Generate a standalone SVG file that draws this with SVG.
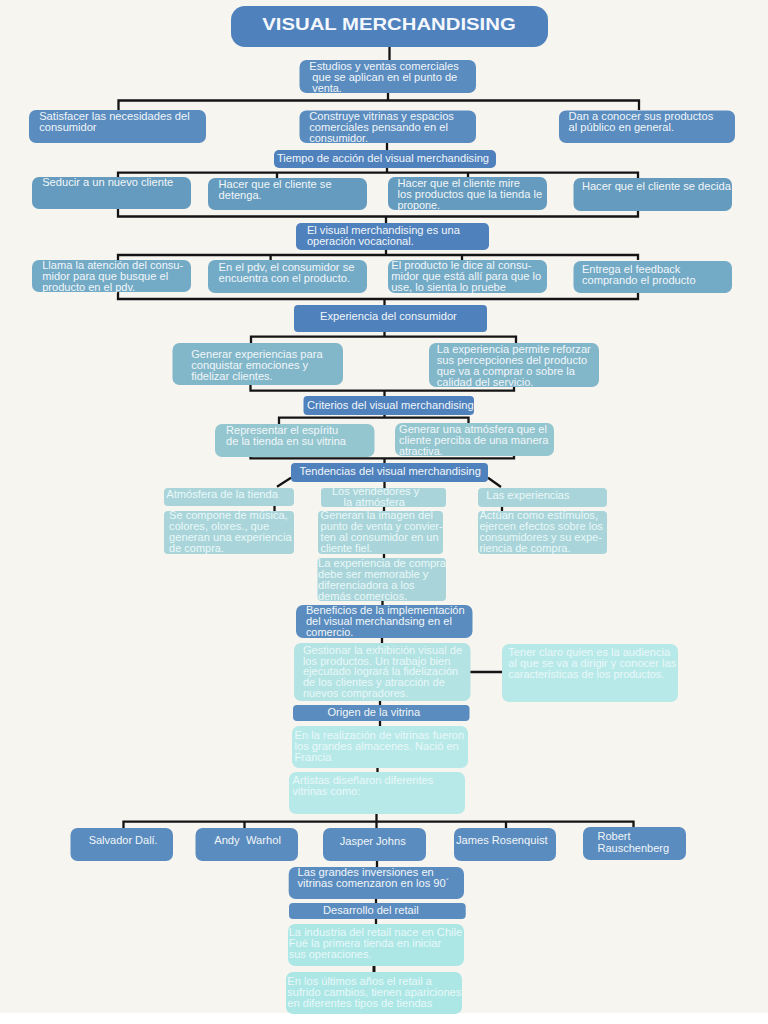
<svg xmlns="http://www.w3.org/2000/svg" width="768" height="1024" viewBox="0 0 768 1024">
<style>
text{font-family:"Liberation Sans",Arial,sans-serif;font-size:10.200px;fill:#f1f6f9;white-space:pre}
.title{font-size:16.5px;font-weight:bold;fill:#f4f7fb}
rect.n{rx:7px;ry:7px}
.c1{fill:#4f81bd}.c2{fill:#5a8cbf}.c3{fill:#659bbe}.c4{fill:#73aac6}.c5{fill:#82b7c9}.c6{fill:#94c6cf}.c7{fill:#a9d5da}.c8{fill:#b3e3e3}.c9{fill:#b8e9e9}.c10{fill:#ace7e6}
.c7~text,.c8~text,.c9~text,.c10~text{fill:#e9f8f8}
#connectors path{fill:none;stroke:#141414;stroke-width:2.300}
</style>
<rect width="768" height="1024" fill="#ffffff"/>
<rect width="768" height="1013" fill="#f7f5f0"/>
<g id="connectors">
<path d="M389.5 47V60"/>
<path d="M388 93V101M118.500 110V100.500H639V110M387 143V150"/>
<path d="M387 168V173M118 178V172.700H638V178M277 172.700V178M468 172.700V178"/>
<path d="M118 209V216.500H638V211M386 216.500V223"/>
<path d="M386 250V255M118 260V255H638V260M270.600 255V260M462 255V260"/>
<path d="M118 292V299H638V293M384.500 299V305"/>
<path d="M384.500 332V337M251 343V336.700H516V343"/>
<path d="M250.500 385V390.700H514V387M384.500 390.700V396"/>
<path d="M384.500 415V418M279 424V417.700H468.500V424"/>
<path d="M250.500 457V458.300H514V456M384.500 458.300V463"/>
<path d="M291 477.700L277 486.700M488 477.700L501 487M384.500 482V488"/>
<path d="M274.500 506V511M384 507V511M502 507V511M384 554V558M382.500 601V605M382 638V643M470 672H502M380 701V705M380 721V726M377.500 768V772"/>
<path d="M376.500 814V836M123.500 828V821.700H633.500V828M244.500 821.700V828M506 821.700V828"/>
<path d="M377 861V867M376 899V903M376 919V924"/>
<path d="M374 966V972" style="stroke-width:3"/>
</g>
<g id="n-title"><rect x="231" y="6" width="317" height="41" rx="14" ry="14" fill="#4f81bd"/><text class="title" x="262.300" y="30" textLength="253.400" lengthAdjust="spacingAndGlyphs">VISUAL MERCHANDISING</text></g>
<g id="n-estudios"><rect class="n c2" x="299.500" y="60" width="176.500" height="33"/>
<text x="309.300" y="69.500" textLength="149.500" lengthAdjust="spacingAndGlyphs">Estudios y ventas comerciales</text>
<text x="312.300" y="80.500" textLength="145" lengthAdjust="spacingAndGlyphs">que se aplican en el punto de</text>
<text x="312.300" y="91.500" textLength="29.400" lengthAdjust="spacingAndGlyphs">venta.</text></g>
<g id="n-satisfacer"><rect class="n c2" x="29" y="110" width="177" height="33"/>
<text x="39.200" y="119.500" textLength="150.500" lengthAdjust="spacingAndGlyphs">Satisfacer las necesidades del</text>
<text x="39.200" y="130.500" textLength="57.400" lengthAdjust="spacingAndGlyphs">consumidor</text></g>
<g id="n-construye"><rect class="n c2" x="299.500" y="110.500" width="176.500" height="32.500"/>
<text x="309.300" y="119.500" textLength="144.600" lengthAdjust="spacingAndGlyphs">Construye vitrinas y espacios</text>
<text x="309.300" y="130.500" textLength="138.700" lengthAdjust="spacingAndGlyphs">comerciales pensando en el</text>
<text x="309.300" y="141.500" textLength="58.800" lengthAdjust="spacingAndGlyphs">consumidor.</text></g>
<g id="n-dan"><rect class="n c2" x="559" y="110.500" width="176" height="32.500"/>
<text x="568.600" y="119.500" textLength="144.600" lengthAdjust="spacingAndGlyphs">Dan a conocer sus productos</text>
<text x="568.600" y="130.500" textLength="105.400" lengthAdjust="spacingAndGlyphs">al público en general.</text></g>
<g id="n-tiempo"><rect class="n c1" x="274" y="150" width="222" height="18" style="rx:5px;ry:5px"/>
<text x="277" y="162" textLength="212" lengthAdjust="spacingAndGlyphs">Tiempo de acción del visual merchandising</text></g>
<g id="n-seducir"><rect class="n c3" x="32" y="177" width="159" height="32"/>
<text x="42.200" y="186" textLength="131" lengthAdjust="spacingAndGlyphs">Seducir a un nuevo cliente</text></g>
<g id="n-detenga"><rect class="n c3" x="208" y="178" width="159" height="32"/>
<text x="218.600" y="188" textLength="113" lengthAdjust="spacingAndGlyphs">Hacer que el cliente se</text>
<text x="218.600" y="199" textLength="43" lengthAdjust="spacingAndGlyphs">detenga.</text></g>
<g id="n-mire"><rect class="n c3" x="388" y="177" width="159" height="33"/>
<text x="397.500" y="187" textLength="122.500" lengthAdjust="spacingAndGlyphs">Hacer que el cliente mire</text>
<text x="397.500" y="198" textLength="144.600" lengthAdjust="spacingAndGlyphs">los productos que la tienda le</text>
<text x="397.500" y="209" textLength="42.600" lengthAdjust="spacingAndGlyphs">propone.</text></g>
<g id="n-decida"><rect class="n c3" x="573.500" y="178" width="158.500" height="33"/>
<text x="581.900" y="190" textLength="149" lengthAdjust="spacingAndGlyphs">Hacer que el cliente se decida</text></g>
<g id="n-vocacional"><rect class="n c1" x="296" y="223" width="193" height="27" style="rx:5px;ry:5px"/>
<text x="306.900" y="234" textLength="153" lengthAdjust="spacingAndGlyphs">El visual merchandising es una</text>
<text x="306.900" y="245" textLength="106.900" lengthAdjust="spacingAndGlyphs">operación vocacional.</text></g>
<g id="n-llama"><rect class="n c4" x="32" y="260" width="159" height="32"/>
<text x="42.200" y="269" textLength="141" lengthAdjust="spacingAndGlyphs">Llama la atención del consu-</text>
<text x="42.200" y="280" textLength="126" lengthAdjust="spacingAndGlyphs">midor para que busque el</text>
<text x="42.200" y="291" textLength="93" lengthAdjust="spacingAndGlyphs">producto en el pdv.</text></g>
<g id="n-pdv"><rect class="n c4" x="208" y="260" width="159" height="33"/>
<text x="218.600" y="270.500" textLength="135.800" lengthAdjust="spacingAndGlyphs">En el pdv, el consumidor se</text>
<text x="218.600" y="282" textLength="131.400" lengthAdjust="spacingAndGlyphs">encuentra con el producto.</text></g>
<g id="n-producto"><rect class="n c4" x="388" y="260" width="159" height="33"/>
<text x="391.200" y="269" textLength="140.200" lengthAdjust="spacingAndGlyphs">El producto le dice al consu-</text>
<text x="391.200" y="280" textLength="150" lengthAdjust="spacingAndGlyphs">midor que está allí para que lo</text>
<text x="391.200" y="291" textLength="114.700" lengthAdjust="spacingAndGlyphs">use, lo sienta lo pruebe</text></g>
<g id="n-entrega"><rect class="n c4" x="573.500" y="261" width="158.500" height="32"/>
<text x="581.900" y="272.500" textLength="98.500" lengthAdjust="spacingAndGlyphs">Entrega el feedback</text>
<text x="581.900" y="283.500" textLength="113.700" lengthAdjust="spacingAndGlyphs">comprando el producto</text></g>
<g id="n-experiencia"><rect class="n c1" x="294" y="305" width="193" height="27" style="rx:4px;ry:4px"/>
<text x="320" y="319.500" textLength="136.800" lengthAdjust="spacingAndGlyphs">Experiencia del consumidor</text></g>
<g id="n-generar"><rect class="n c5" x="172.500" y="343" width="170.500" height="42"/>
<text x="191.200" y="357.500" textLength="131.400" lengthAdjust="spacingAndGlyphs">Generar experiencias para</text>
<text x="191.200" y="368.500" textLength="117" lengthAdjust="spacingAndGlyphs">conquistar emociones y</text>
<text x="191.200" y="379.500" textLength="81.400" lengthAdjust="spacingAndGlyphs">fidelizar clientes.</text></g>
<g id="n-reforzar"><rect class="n c5" x="429" y="343" width="170" height="44"/>
<text x="436.800" y="352.500" textLength="154" lengthAdjust="spacingAndGlyphs">La experiencia permite reforzar</text>
<text x="436.800" y="364" textLength="150.500" lengthAdjust="spacingAndGlyphs">sus percepciones del producto</text>
<text x="436.800" y="375" textLength="138.200" lengthAdjust="spacingAndGlyphs">que va a comprar o sobre la</text>
<text x="436.800" y="386" textLength="96.600" lengthAdjust="spacingAndGlyphs">calidad del servicio.</text></g>
<g id="n-criterios"><rect class="n c1" x="303.500" y="396" width="170.500" height="19" style="rx:4px;ry:4px"/>
<text x="306.900" y="408.500" textLength="166.700" lengthAdjust="spacingAndGlyphs">Criterios del visual merchandising</text></g>
<g id="n-espiritu"><rect class="n c6" x="215" y="424" width="159.500" height="33"/>
<text x="226" y="434" textLength="112.300" lengthAdjust="spacingAndGlyphs">Representar el espíritu</text>
<text x="226" y="445" textLength="120" lengthAdjust="spacingAndGlyphs">de la tienda en su vitrina</text></g>
<g id="n-atmosfera"><rect class="n c6" x="395" y="423" width="159" height="33"/>
<text x="399" y="432.500" textLength="148" lengthAdjust="spacingAndGlyphs">Generar una atmósfera que el</text>
<text x="399" y="443.500" textLength="149.500" lengthAdjust="spacingAndGlyphs">cliente perciba de una manera</text>
<text x="399" y="454.500" textLength="43.600" lengthAdjust="spacingAndGlyphs">atractiva.</text></g>
<g id="n-tendencias"><rect class="n c1" x="291" y="463" width="197" height="19" style="rx:4px;ry:4px"/>
<text x="299.500" y="475" textLength="181.400" lengthAdjust="spacingAndGlyphs">Tendencias del visual merchandising</text></g>
<g id="n-t1"><rect class="n c7" x="164" y="488" width="130" height="18" style="rx:4px;ry:4px"/>
<text x="166.200" y="497.500" textLength="111.800" lengthAdjust="spacingAndGlyphs">Atmósfera de la tienda</text></g>
<g id="n-t2"><rect class="n c7" x="321" y="488" width="125" height="19" style="rx:3px;ry:3px"/>
<text x="331.900" y="495" textLength="87.300" lengthAdjust="spacingAndGlyphs">Los vendedores y</text>
<text x="343.600" y="506" textLength="61.300" lengthAdjust="spacingAndGlyphs">la atmósfera</text></g>
<g id="n-t3"><rect class="n c7" x="478" y="488" width="129" height="19" style="rx:4px;ry:4px"/>
<text x="486.300" y="499" textLength="83.300" lengthAdjust="spacingAndGlyphs">Las experiencias</text></g>
<g id="n-t1a"><rect class="n c7" x="164" y="511" width="130" height="43" style="rx:4px;ry:4px"/>
<text x="169.100" y="519" textLength="118.600" lengthAdjust="spacingAndGlyphs">Se compone de música,</text>
<text x="169.100" y="530" textLength="100" lengthAdjust="spacingAndGlyphs">colores, olores., que</text>
<text x="169.100" y="541" textLength="122.500" lengthAdjust="spacingAndGlyphs">generan una experiencia</text>
<text x="169.100" y="552" textLength="54.900" lengthAdjust="spacingAndGlyphs">de compra.</text></g>
<g id="n-t2a"><rect class="n c7" x="318" y="511" width="125" height="43" style="rx:4px;ry:4px"/>
<text x="320.600" y="519" textLength="112.300" lengthAdjust="spacingAndGlyphs">Generan la imagen del</text>
<text x="320.600" y="530" textLength="122" lengthAdjust="spacingAndGlyphs">punto de venta y convier-</text>
<text x="320.600" y="541" textLength="118" lengthAdjust="spacingAndGlyphs">ten al consumidor en un</text>
<text x="320.600" y="552" textLength="51.500" lengthAdjust="spacingAndGlyphs">cliente fiel.</text></g>
<g id="n-t3a"><rect class="n c7" x="478" y="511" width="129" height="43" style="rx:4px;ry:4px"/>
<text x="479.400" y="519" textLength="118.600" lengthAdjust="spacingAndGlyphs">Actúan como estímulos,</text>
<text x="479.400" y="530" textLength="123.500" lengthAdjust="spacingAndGlyphs">ejercen efectos sobre los</text>
<text x="479.400" y="541" textLength="122.500" lengthAdjust="spacingAndGlyphs">consumidores y su expe-</text>
<text x="479.400" y="552" textLength="91.200" lengthAdjust="spacingAndGlyphs">riencia de compra.</text></g>
<g id="n-t2b"><rect class="n c7" x="317.500" y="558" width="128.500" height="43" style="rx:4px;ry:4px"/>
<text x="318" y="567" textLength="128" lengthAdjust="spacingAndGlyphs">La experiencia de compra</text>
<text x="318" y="578" textLength="110.300" lengthAdjust="spacingAndGlyphs">debe ser memorable y</text>
<text x="318" y="589" textLength="96.600" lengthAdjust="spacingAndGlyphs">diferenciadora a los</text>
<text x="318" y="600" textLength="89.200" lengthAdjust="spacingAndGlyphs">demás comercios.</text></g>
<g id="n-beneficios"><rect class="n c2" x="296" y="605" width="176.500" height="33"/>
<text x="305.900" y="614" textLength="158.800" lengthAdjust="spacingAndGlyphs">Beneficios de la implementación</text>
<text x="305.900" y="625" textLength="146" lengthAdjust="spacingAndGlyphs">del visual merchandsing en el</text>
<text x="305.900" y="636" textLength="47.500" lengthAdjust="spacingAndGlyphs">comercio.</text></g>
<g id="n-gestionar"><rect class="n c8" x="294" y="643" width="176.500" height="58"/>
<text x="302.900" y="653.500" textLength="159.300" lengthAdjust="spacingAndGlyphs">Gestionar la exhibición visual de</text>
<text x="302.900" y="664.500" textLength="147.500" lengthAdjust="spacingAndGlyphs">los productos. Un trabajo bien</text>
<text x="302.900" y="675" textLength="155.400" lengthAdjust="spacingAndGlyphs">ejecutado logrará la fidelización</text>
<text x="302.900" y="686" textLength="142" lengthAdjust="spacingAndGlyphs">de los clientes y atracción de</text>
<text x="302.900" y="697" textLength="105.400" lengthAdjust="spacingAndGlyphs">nuevos compradores.</text></g>
<g id="n-tener"><rect class="n c9" x="502" y="644" width="176" height="58"/>
<text x="508.300" y="656" textLength="161.800" lengthAdjust="spacingAndGlyphs">Tener claro quien es la audiencia</text>
<text x="508.300" y="667" textLength="168" lengthAdjust="spacingAndGlyphs">al que se va a dirigir y conocer las</text>
<text x="508.300" y="678" textLength="156" lengthAdjust="spacingAndGlyphs">características de los productos.</text></g>
<g id="n-origen"><rect class="n c2" x="293" y="705" width="176.500" height="16" style="rx:4px;ry:4px"/>
<text x="327.500" y="716" textLength="92.600" lengthAdjust="spacingAndGlyphs">Origen de la vitrina</text></g>
<g id="n-realizacion"><rect class="n c9" x="292" y="726" width="176" height="42"/>
<text x="294.600" y="738.500" textLength="169.600" lengthAdjust="spacingAndGlyphs">En la realización de vitrinas fueron</text>
<text x="294.600" y="749.500" textLength="164.200" lengthAdjust="spacingAndGlyphs">los grandes almacenes. Nació en</text>
<text x="294.600" y="760.500" textLength="36.800" lengthAdjust="spacingAndGlyphs">Francia</text></g>
<g id="n-artistas"><rect class="n c9" x="289" y="772" width="176" height="42"/>
<text x="292.600" y="784" textLength="140.700" lengthAdjust="spacingAndGlyphs">Artistas diseñaron diferentes</text>
<text x="292.600" y="795" textLength="67.600" lengthAdjust="spacingAndGlyphs">vitrinas como:</text></g>
<g id="n-dali"><rect class="n c2" x="70.500" y="828" width="102.500" height="33"/>
<text x="88.700" y="844" textLength="69" lengthAdjust="spacingAndGlyphs">Salvador Dalí.</text></g>
<g id="n-warhol"><rect class="n c2" x="195.500" y="828" width="102.500" height="33"/>
<text x="214.200" y="844" textLength="66.700" lengthAdjust="spacingAndGlyphs">Andy  Warhol</text></g>
<g id="n-johns"><rect class="n c2" x="323" y="828" width="103" height="33"/>
<text x="339.700" y="845" textLength="66" lengthAdjust="spacingAndGlyphs">Jasper Johns</text></g>
<g id="n-rosenquist"><rect class="n c2" x="454" y="828" width="102" height="33"/>
<text x="455.900" y="843.500" textLength="91.700" lengthAdjust="spacingAndGlyphs">James Rosenquist</text></g>
<g id="n-rauschenberg"><rect class="n c2" x="583" y="827" width="103" height="33"/>
<text x="597.500" y="840" textLength="33" lengthAdjust="spacingAndGlyphs">Robert</text>
<text x="597.500" y="852" textLength="71.600" lengthAdjust="spacingAndGlyphs">Rauschenberg</text></g>
<g id="n-inversiones"><rect class="n c2" x="288.700" y="867" width="175.300" height="32"/>
<text x="297.500" y="876" textLength="136.300" lengthAdjust="spacingAndGlyphs">Las grandes inversiones en</text>
<text x="297.500" y="887" textLength="152" lengthAdjust="spacingAndGlyphs">vitrinas comenzaron en los 90´</text></g>
<g id="n-retail"><rect class="n c2" x="289" y="903" width="176.700" height="16" style="rx:4px;ry:4px"/>
<text x="323" y="913.500" textLength="95.600" lengthAdjust="spacingAndGlyphs">Desarrollo del retail</text></g>
<g id="n-industria"><rect class="n c10" x="288" y="924" width="176" height="42"/>
<text x="288.700" y="936" textLength="173.500" lengthAdjust="spacingAndGlyphs">La industria del retail nace en Chile</text>
<text x="288.700" y="947" textLength="152.500" lengthAdjust="spacingAndGlyphs">Fué la primera tienda en iniciar</text>
<text x="288.700" y="958" textLength="82.800" lengthAdjust="spacingAndGlyphs">sus operaciones.</text></g>
<g id="n-ultimos"><rect class="n c10" x="286" y="972" width="176" height="42"/>
<text x="287.300" y="985" textLength="144.600" lengthAdjust="spacingAndGlyphs">En los últimos años el retail a</text>
<text x="287.300" y="996" textLength="174" lengthAdjust="spacingAndGlyphs">sufrido cambios, tienen apariciones</text>
<text x="287.300" y="1007" textLength="145" lengthAdjust="spacingAndGlyphs">en diferentes tipos de tiendas</text></g>
</svg>
